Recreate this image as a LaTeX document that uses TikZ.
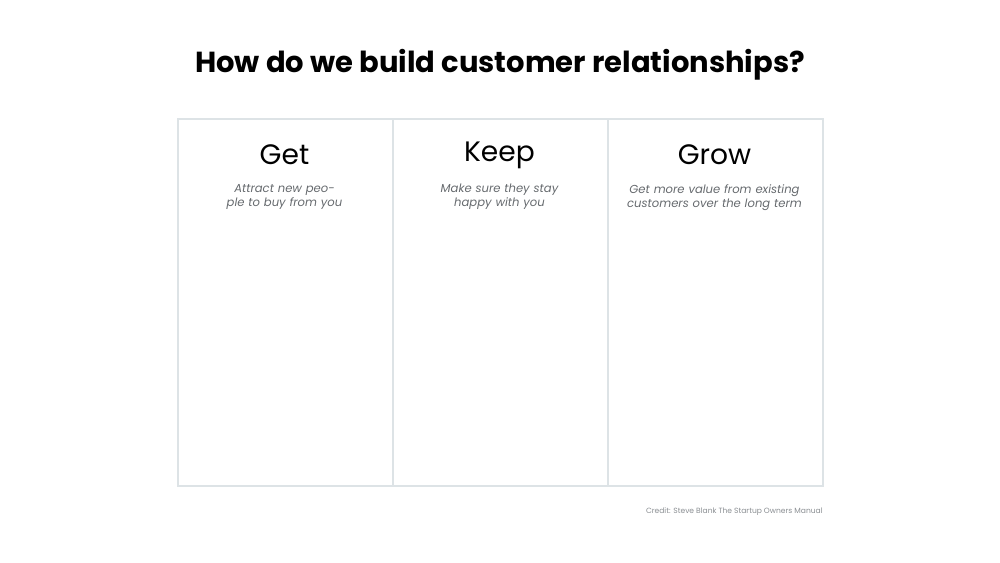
\documentclass[tikz,border=0pt]{standalone}
\usepackage{fontspec}
\setmainfont{Poppins}
\definecolor{frame}{HTML}{DDE3E6}
\definecolor{sub}{HTML}{666A6E}
\definecolor{cred}{HTML}{8A8E92}
\tikzset{
  col/.style={draw=frame,line width=1.2pt,minimum width=4.3cm,minimum height=7.34cm,inner sep=0pt,anchor=north west},
  head/.style={font=\fontsize{16}{18}\selectfont},
  subt/.style={font=\itshape\fontsize{6.6}{8}\selectfont,text=sub,text width=3.5cm,align=center,anchor=north},
}
\begin{document}
\begin{tikzpicture}[x=0.02cm,y=-0.02cm]
\useasboundingbox (0,0) rectangle (1000,563);
\node[font=\bfseries\fontsize{16.5}{19}\selectfont] (title) at (500,65) {How do we build customer relationships?};
\node[col] (c1) at (177,118) {};
\node[col] (c2) at (392,118) {};
\node[col] (c3) at (607,118) {};
\node[head] (h1) at (284.5,155) {Get};
\node[head] (h2) at (499.5,155) {Keep};
\node[head] (h3) at (714.5,155) {Grow};
\node[subt] (s1) at (284.5,178) {Attract new people to buy from you};
\node[subt] (s2) at (499.5,178) {Make sure they stay happy with you};
\node[subt] (s3) at (714.5,178) {Get more value from existing customers over the long term};
\node[anchor=east,font=\fontsize{4.3}{5}\selectfont,text=cred,inner sep=0pt] (cr) at (823,512) {Credit: Steve Blank The Startup Owners Manual};
\end{tikzpicture}
\end{document}
